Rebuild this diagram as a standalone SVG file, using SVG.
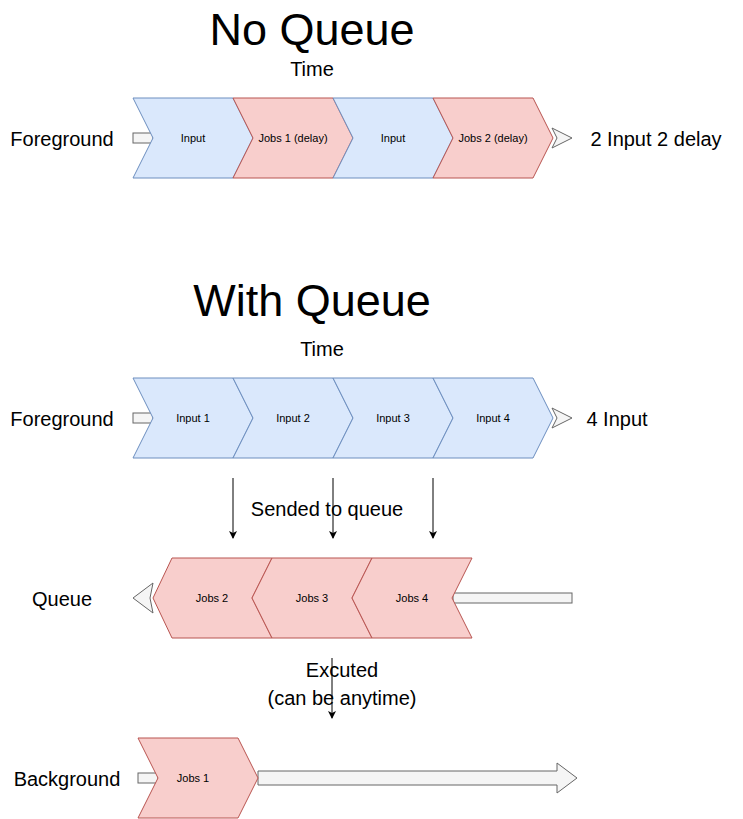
<svg xmlns="http://www.w3.org/2000/svg" width="743" height="819" viewBox="0 0 743 819">
<style>
text{font-family:"Liberation Sans",Arial,sans-serif;fill:#000}
.b{fill:#dae8fc;stroke:#6c8ebf}
.r{fill:#f8cecc;stroke:#b85450}
.g{fill:#f5f5f5;stroke:#666}
.s{font-size:11px}
.m{font-size:20px}
.l{stroke:#000;fill:none}
</style>
<defs><marker id="a" markerWidth="8" markerHeight="8" refX="7" refY="4" orient="auto" markerUnits="userSpaceOnUse"><path d="M0,0L8,4L0,8L2,4Z" fill="#000"/></marker></defs>
<rect width="743" height="819" fill="#fff"/>
<text x="312" y="45" font-size="45" text-anchor="middle">No Queue</text>
<text x="312" y="76" class="m" text-anchor="middle">Time</text>
<text x="62" y="146" class="m" text-anchor="middle">Foreground</text>
<text x="656" y="146" class="m" text-anchor="middle">2 Input 2 delay</text>
<g id="top-row">
<rect class="g" x="133" y="133" width="20" height="10"/>
<path class="g" d="M552,128L572,138L552,148L557,138Z"/>
<path class="b" d="M133,98H233L253,138L233,178H133L153,138Z"/><text class="s" x="193" y="142" text-anchor="middle">Input</text>
<path class="r" d="M233,98H333L353,138L333,178H233L253,138Z"/><text class="s" x="293" y="142" text-anchor="middle">Jobs 1 (delay)</text>
<path class="b" d="M333,98H433L453,138L433,178H333L353,138Z"/><text class="s" x="393" y="142" text-anchor="middle">Input</text>
<path class="r" d="M433,98H533L553,138L533,178H433L453,138Z"/><text class="s" x="493" y="142" text-anchor="middle">Jobs 2 (delay)</text>
</g>
<text x="312" y="316" font-size="45" text-anchor="middle">With Queue</text>
<text x="322" y="356" class="m" text-anchor="middle">Time</text>
<text x="62" y="426" class="m" text-anchor="middle">Foreground</text>
<text x="617" y="426" class="m" text-anchor="middle">4 Input</text>
<g id="fg-row">
<rect class="g" x="133" y="413" width="20" height="10"/>
<path class="g" d="M552,408L572,418L552,428L557,418Z"/>
<path class="b" d="M133,378H233L253,418L233,458H133L153,418Z"/><text class="s" x="193" y="422" text-anchor="middle">Input 1</text>
<path class="b" d="M233,378H333L353,418L333,458H233L253,418Z"/><text class="s" x="293" y="422" text-anchor="middle">Input 2</text>
<path class="b" d="M333,378H433L453,418L433,458H333L353,418Z"/><text class="s" x="393" y="422" text-anchor="middle">Input 3</text>
<path class="b" d="M433,378H533L553,418L533,458H433L453,418Z"/><text class="s" x="493" y="422" text-anchor="middle">Input 4</text>
</g>
<g id="connectors">
<path class="l" d="M233,478V538" marker-end="url(#a)"/>
<path class="l" d="M333,478V538" marker-end="url(#a)"/>
<path class="l" d="M433,478V538" marker-end="url(#a)"/>
<path class="l" d="M332,658V718" marker-end="url(#a)"/>
</g>
<text x="327" y="516" class="m" text-anchor="middle">Sended to queue</text>
<text x="62" y="606" class="m" text-anchor="middle">Queue</text>
<g id="queue-row">
<path class="g" d="M153,583L133,598L153,613L150,598Z"/>
<rect class="g" x="453" y="593" width="119" height="10"/>
<path class="r" d="M172,558H272L252,598L272,638H172L153,598Z"/><text class="s" x="212" y="602" text-anchor="middle">Jobs 2</text>
<path class="r" d="M272,558H372L352,598L372,638H272L252,598Z"/><text class="s" x="312" y="602" text-anchor="middle">Jobs 3</text>
<path class="r" d="M372,558H472L452,598L472,638H372L352,598Z"/><text class="s" x="412" y="602" text-anchor="middle">Jobs 4</text>
</g>
<text x="342" y="677" class="m" text-anchor="middle">Excuted</text>
<text x="342" y="705" class="m" text-anchor="middle">(can be anytime)</text>
<text x="67" y="786" class="m" text-anchor="middle">Background</text>
<g id="bg-row">
<rect class="g" x="138" y="773" width="20" height="10"/>
<path class="g" d="M258,771H557V763L577,778L557,793V785H258Z"/>
<path class="r" d="M138,738H238L258,778L238,818H138L158,778Z"/><text class="s" x="193" y="782" text-anchor="middle">Jobs 1</text>
</g>
</svg>
